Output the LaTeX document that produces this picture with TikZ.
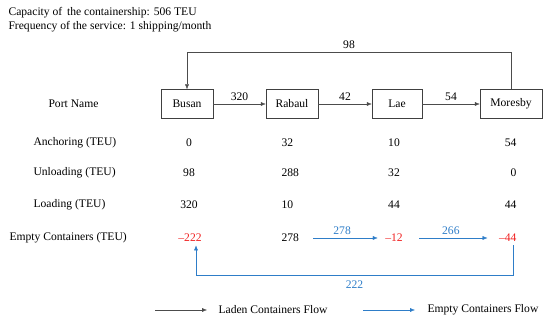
\documentclass[tikz,border=0pt]{standalone}
\usepackage{fontspec}
\setmainfont{Liberation Serif}
\usepackage{tikz}
\usepackage{xcolor}
\usetikzlibrary{positioning, arrows.meta}
\definecolor{emptyblue}{RGB}{46,125,200}
\definecolor{minusred}{RGB}{240,30,30}

\begin{document}
\begin{tikzpicture}[
  x=1pt, y=-1pt,
  every node/.style={font=\rmfamily\fontsize{11.6}{13}\selectfont},
  portbox/.style={draw=black!75, minimum height=29pt, inner sep=2pt},
  ladenflow/.style={draw=black!70, -{Latex[length=5pt,width=4pt]}},
  emptyflow/.style={draw=emptyblue, -{Latex[length=5pt,width=4pt]}},
  rowlbl/.style={anchor=west},
  neg/.style={text=minusred},
]
  \useasboundingbox (0,0) rectangle (550,320);

  % Service data
  \node[anchor=west] (cap) at (5,13) {Capacity of\, the containership: 506 TEU};
  \node[anchor=west] (freq) at (5,27) {Frequency of the service: 1 shipping/month};

  % Ports of call
  \node[portbox, minimum width=52pt] (busan) at (187,104) {Busan};
  \node[portbox, minimum width=52pt] (rabaul) at (292,104) {Rabaul};
  \node[portbox, minimum width=50pt] (lae) at (397,104) {Lae};
  \node[portbox, minimum width=62pt] (moresby) at (511,104) {Moresby};
  \draw[ladenflow] (busan) -- node[above] {320} (rabaul);
  \draw[ladenflow] (rabaul) -- node[above] {42} (lae);
  \draw[ladenflow] (lae) -- node[above] {54} (moresby);
  \draw[ladenflow] (moresby.north) -- ++(0,-37) -| node[pos=.25, above] {98} (busan.north);

  % Row labels
  \node[rowlbl] (portlbl) at (45,104) {Port Name};
  \node[rowlbl] (anchlbl) at (30,143) {Anchoring (TEU)};
  \node[rowlbl] (unldlbl) at (30,173) {Unloading (TEU)};
  \node[rowlbl] (loadlbl) at (30,205) {Loading (TEU)};
  \node[rowlbl] (emptylbl) at (6,238) {Empty Containers (TEU)};

  % Busan column
  \node (a1) at (189,143) {0};
  \node (u1) at (189,173) {98};
  \node (l1) at (189,205) {320};
  \node[neg] (e1) at (190,238) {\textendash222};

  % Rabaul column
  \node[anchor=west] (a2) at (278,143) {32};
  \node[anchor=west] (u2) at (278,173) {288};
  \node[anchor=west] (l2) at (278,205) {10};
  \node[anchor=west] (e2) at (278,238) {278};

  % Lae column
  \node (a3) at (394,143) {10};
  \node (u3) at (394,173) {32};
  \node (l3) at (394,205) {44};
  \node[neg] (e3) at (394,238) {\textendash12};

  % Moresby column
  \node[anchor=east] (a4) at (520,143) {54};
  \node[anchor=east] (u4) at (520,173) {0};
  \node[anchor=east] (l4) at (520,205) {44};
  \node[neg, anchor=east] (e4) at (520,238) {\textendash44};

  % Empty containers repositioning
  \draw[emptyflow, shorten <=11pt, shorten >=4pt] (e2) -- node[above, text=emptyblue] {278} (e3);
  \draw[emptyflow, shorten <=13pt, shorten >=8pt] (e3) -- node[above, text=emptyblue] {266} (e4);
  \coordinate (lowR) at (513,275);
  \coordinate (lowL) at (196,275);
  \draw[emptyflow] (e4.south -| lowR) -- (lowR) -- node[below=2pt, text=emptyblue] {222} (lowL) -- (e1.south -| lowL);

  % Legend
  \coordinate (lgladen) at (155,310);
  \coordinate (lgempty) at (363,310);
  \node[anchor=west] (ladenlbl) at (215,310) {Laden Containers Flow};
  \node[anchor=west] (emptylbl2) at (424,310) {Empty Containers Flow};
  \draw[ladenflow, shorten >=8pt] (lgladen) -- (ladenlbl);
  \draw[emptyflow, shorten >=9pt] (lgempty) -- (emptylbl2);
\end{tikzpicture}
\end{document}
